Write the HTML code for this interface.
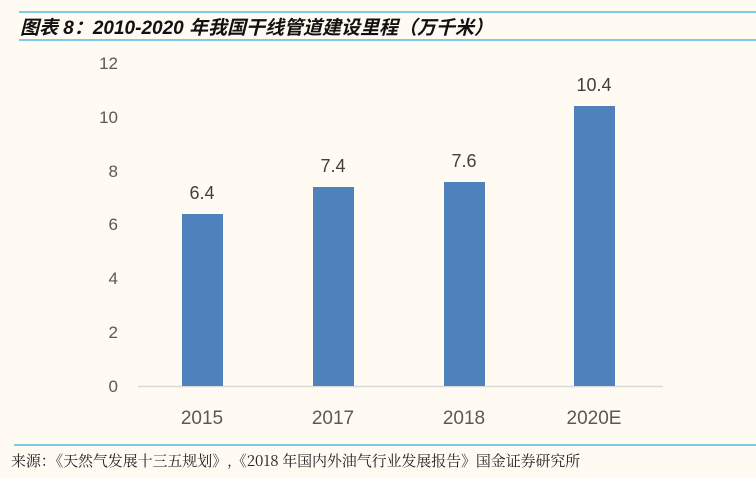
<!DOCTYPE html>
<html><head><meta charset="utf-8"><style>
body{margin:0;width:756px;height:478px;background:#fffaf2;overflow:hidden;position:relative;font-family:"Liberation Sans","Noto Sans CJK SC",sans-serif}
.t{position:absolute;left:20px;top:13px;font-size:19px;font-weight:bold;font-style:italic;color:#111;white-space:nowrap}
.l{position:absolute;left:19px;right:0;height:2px;background:#7ccbe8}
.s{position:absolute;left:11px;top:450px;font-size:15px;letter-spacing:-0.1px;color:#222;font-family:"Noto Serif CJK SC","Liberation Serif",serif;white-space:nowrap}
</style></head><body>
<div class="l" style="top:11px"></div>
<div class="t">图表 8：2010-2020 年我国干线管道建设里程（万千米）</div>
<div class="l" style="top:39px"></div>
<svg width="756" height="478" style="position:absolute;left:0;top:0" font-family="Liberation Sans, sans-serif">
<g fill="#595959" font-size="17" text-anchor="end">
<text x="118" y="392">0</text><text x="118" y="338">2</text><text x="118" y="284">4</text><text x="118" y="230">6</text><text x="118" y="177">8</text><text x="118" y="123">10</text><text x="118" y="69">12</text>
</g>
<line x1="138" y1="386.5" x2="663" y2="386.5" stroke="#d9d9d9" stroke-width="1.5"/>
<g fill="#4f81bd">
<rect x="182" y="214" width="41" height="172"/>
<rect x="313" y="187" width="41" height="199"/>
<rect x="444" y="182" width="41" height="204"/>
<rect x="574" y="106" width="41" height="280"/>
</g>
<g fill="#404040" font-size="18" text-anchor="middle">
<text x="202" y="199">6.4</text><text x="333" y="172">7.4</text><text x="464" y="167">7.6</text><text x="594" y="91">10.4</text>
</g>
<g fill="#595959" font-size="19" text-anchor="middle">
<text x="202" y="424">2015</text><text x="333" y="424">2017</text><text x="464" y="424">2018</text><text x="594" y="424">2020E</text>
</g>
</svg>
<div class="l" style="top:444px;left:14px"></div>
<div class="s">来源：《天然气发展十三五规划》,《2018 年国内外油气行业发展报告》国金证券研究所</div>
</body></html>
